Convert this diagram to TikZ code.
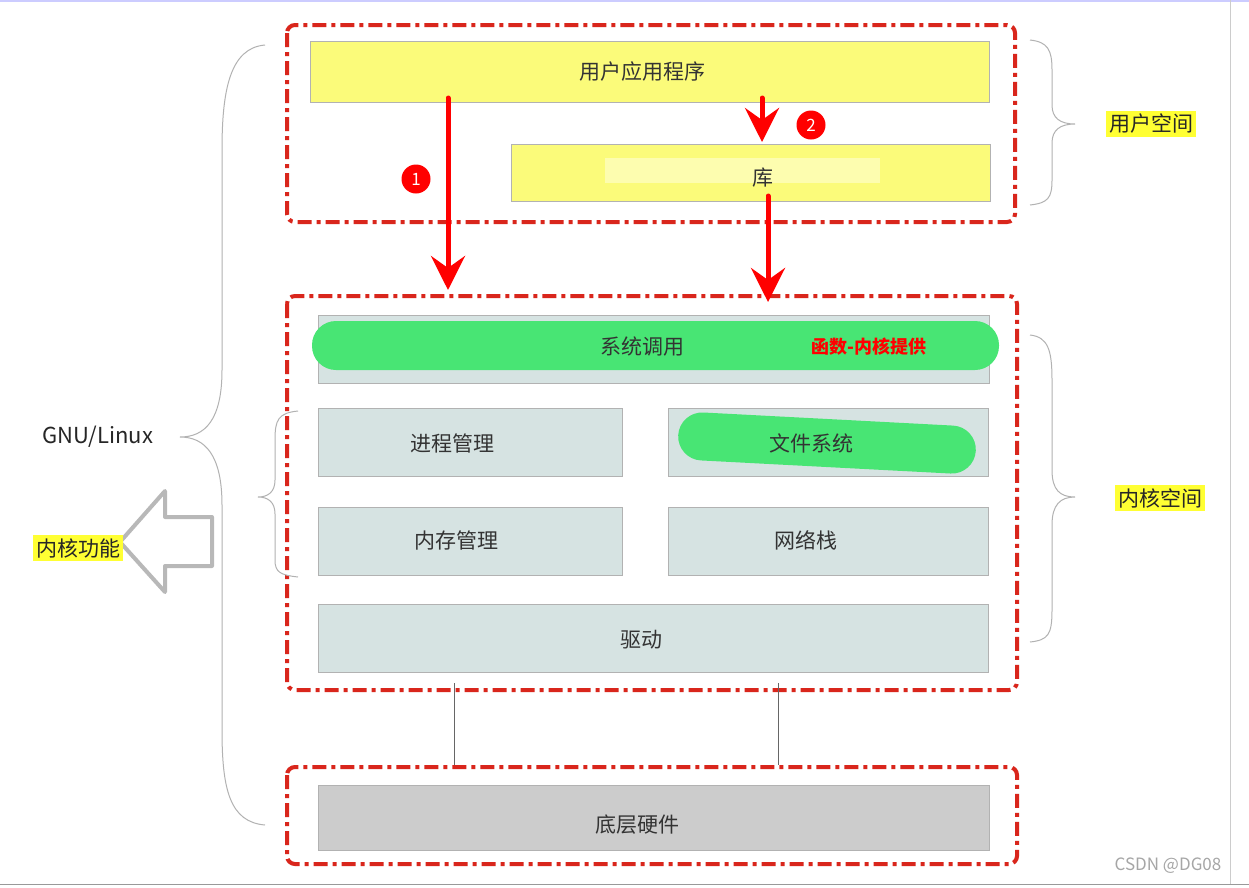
\documentclass[tikz,border=0pt]{standalone}
\usepackage{fontspec}
\setmainfont{Noto Sans CJK SC}
\usetikzlibrary{arrows.meta}
\definecolor{dred}{HTML}{D9261C}
\definecolor{ylw}{HTML}{FBFB7A}
\definecolor{kbox}{HTML}{D6E3E2}
\definecolor{grn}{HTML}{48E574}
\definecolor{hl}{HTML}{FFFF33}
\tikzset{
 zone/.style={draw=dred,line width=4pt,rounded corners=8pt,dash pattern=on 14pt off 5pt on 4pt off 5pt},
 ubox/.style={draw=black!30,fill=ylw,line width=0.8pt},
 kb/.style={draw=black!30,fill=kbox,line width=0.8pt},
 lbl/.style={font=\fontsize{21}{24}\selectfont,text=black!80},
 brace/.style={draw=black!30,line width=1pt},
 rarr/.style={draw=red,line width=5pt,line cap=round,-{Stealth[width=34pt,length=34pt,inset=12pt]}},
 num/.style={circle,fill=red,text=white,inner sep=0pt,minimum size=29pt,font=\fontsize{17}{17}\selectfont},
 hlt/.style={fill=hl,inner sep=3pt,font=\fontsize{21}{24}\selectfont,text=black!85},
}
\begin{document}
\begin{tikzpicture}[x=1pt,y=-1pt]
\useasboundingbox (0,0) rectangle (1249,887);
\fill[white] (0,0) rectangle (1249,887);
\draw[blue!20,line width=2pt] (0,1) -- (1249,1);
\draw[black!20,line width=1pt] (1230,0) -- (1230,884);
\draw[black!40,line width=1pt] (0,884) -- (1249,884);
% user space
\draw[zone] (287,25) rectangle (1015,222);
\draw[ubox] (310,41) rectangle (989,102);
\node[lbl] (app) at (642,72) {用户应用程序};
\draw[ubox] (511,144) rectangle (990,201);
\fill[ylw!60!white] (605,158) rectangle (880,183);
\node[lbl] (lib) at (763,178) {库};
% kernel
\draw[zone] (287,296) rectangle (1017,690);
\draw[kb] (318,315) rectangle (989,383);
\fill[grn,rounded corners=24pt] (312,321) rectangle (999,370);
\node[lbl] (sys) at (642,347) {系统调用};
\node[text=red,font=\bfseries\fontsize{18}{20}\selectfont] (fn) at (869,347) {函数-内核提供};
\draw[kb] (318,408) rectangle (622,476);
\node[lbl] (proc) at (452,443) {进程管理};
\draw[kb] (668,408) rectangle (988,476);
\fill[grn,rounded corners=24pt,rotate around={-3:(827,443)}] (678,419) rectangle (976,467);
\node[lbl] (fs) at (811,443) {文件系统};
\draw[kb] (318,507) rectangle (622,575);
\node[lbl] (mem) at (456,540) {内存管理};
\draw[kb] (668,507) rectangle (988,575);
\node[lbl] (net) at (806,540) {网络栈};
\draw[kb] (318,604) rectangle (988,672);
\node[lbl] (drv) at (641,640) {驱动};
% hardware
\draw[black!60,line width=1pt] (454,683) -- (454,765);
\draw[black!60,line width=1pt] (778,683) -- (778,765);
\draw[zone] (287,767) rectangle (1017,864);
\draw[draw=black!30,fill=black!20,line width=0.8pt] (318,785) rectangle (989,850);
\node[lbl] (hw) at (637,825) {底层硬件};
% red arrows
\coordinate (a1s) at (448,98); \coordinate (a1e) at (448,290);
\draw[rarr] (a1s) -- (a1e);
\node[num] (n1) at (416,179) {1};
\coordinate (a2s) at (762,98); \coordinate (a2e) at (762,142);
\draw[rarr] (a2s) -- (a2e);
\node[num] (n2) at (811,125) {2};
\coordinate (a3s) at (768,196); \coordinate (a3e) at (768,302);
\draw[rarr] (a3s) -- (a3e);
% left big brace
\draw[brace] (265,45) .. controls (230,48) and (222,90) .. (222,150) -- (222,370) .. controls (222,420) and (205,437) .. (180,437)
  .. controls (205,437) and (222,455) .. (222,505) -- (222,730) .. controls (222,790) and (230,822) .. (265,825);
\node[font=\fontsize{22}{26}\selectfont,text=black!85] (gnu) at (98,437) {GNU/Linux};
% small brace
\draw[brace] (298,411) .. controls (278,413) and (275,420) .. (275,440) -- (275,480) .. controls (275,492) and (268,497) .. (258,497)
  .. controls (268,497) and (275,502) .. (275,514) -- (275,560) .. controls (275,572) and (280,575) .. (298,577);
% hollow arrow
\draw[black!28,line width=4pt,line join=round,fill=white] (120,542) -- (165,491) -- (165,517) -- (212,517) -- (212,566) -- (165,566) -- (165,592) -- cycle;
\node[hlt] (kf) at (78,548) {内核功能};
% right braces
\draw[brace] (1030,40) .. controls (1048,42) and (1052,50) .. (1052,70) -- (1052,105) .. controls (1052,118) and (1060,124) .. (1075,124)
  .. controls (1060,124) and (1052,130) .. (1052,143) -- (1052,180) .. controls (1052,198) and (1048,203) .. (1030,205);
\node[hlt] (us) at (1151,124) {用户空间};
\draw[brace] (1030,335) .. controls (1048,337) and (1052,350) .. (1052,380) -- (1052,470) .. controls (1052,490) and (1060,497) .. (1075,497)
  .. controls (1060,497) and (1052,505) .. (1052,525) -- (1052,610) .. controls (1052,635) and (1048,640) .. (1030,642);
\node[hlt] (ks) at (1160,498) {内核空间};
\node[text=black!35,font=\fontsize{17}{20}\selectfont] (csdn) at (1168,866) {CSDN @DG08};
\end{tikzpicture}
\end{document}
